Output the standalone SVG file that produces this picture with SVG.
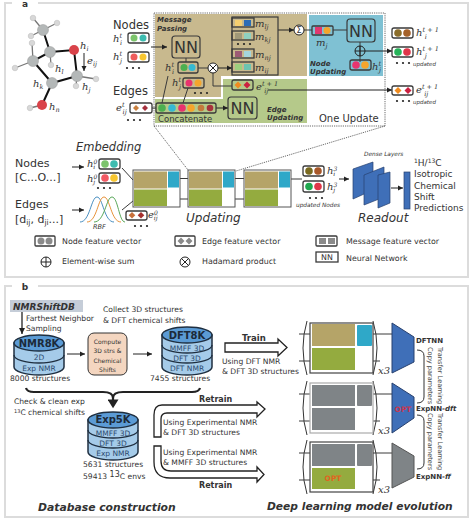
<svg xmlns="http://www.w3.org/2000/svg" xmlns:xlink="http://www.w3.org/1999/xlink" width="474" height="530" viewBox="0 0 474 530">
<style>
text{font-family:"DejaVu Sans",sans-serif;fill:#333}
.m{font-family:"DejaVu Serif",serif;font-style:italic;font-size:10px;fill:#333}
.s{font-size:6.5px}
.t8{font-size:8px}
.t7{font-size:7.600px}
.l8{font-size:7.900px}
.b7{font-size:7px;font-weight:bold}
.bi{font-weight:bold;font-style:italic}
.bi7{font-size:7px;font-weight:bold;font-style:italic}
.ti{font-style:italic;font-size:12px}
.nn{font-size:16px;text-anchor:middle}
.ctr{text-anchor:middle}
.vec{fill:none;stroke:#3a3a3a;stroke-width:1.3}
.nnb{fill:none;stroke:#3a3a3a;stroke-width:1.2}
.ln{fill:none;stroke:#3a3a3a;stroke-width:1}
.ar{fill:none;stroke:#222;stroke-width:1;marker-end:url(#a)}
.dot{fill:none;stroke:#444;stroke-width:.8;stroke-dasharray:1.2 1}
.frame{fill:none;stroke:#dcdcdc;stroke-width:2}
.hol{fill:#fff;stroke:#222;stroke-width:1.3}
.blk{fill:#fff;stroke:#555;stroke-width:1}
.tan{fill:#b5a468}.blu{fill:#2fa8c8}.grn{fill:#94ab3f}.gry{fill:#7f8487}
.rl{font-size:6.600px;fill:#444}
.lay{fill:#3f6fb8;stroke:#27406e;stroke-width:.7}
.op{fill:none;stroke:#333;stroke-width:1}
.h{fill:#d8d8d8;stroke:#bbb;stroke-width:.5}
.c{fill:#b4b8b8;stroke:#999;stroke-width:.5}
.o{fill:#d9434a}
.dbt{font-size:7.500px;fill:#2d4c70;text-anchor:middle}
.dbh{font-size:10px;font-weight:bold;fill:#1c2a3a;text-anchor:middle}
</style>
<defs>
<marker id="a" markerWidth="6" markerHeight="6" refX="5" refY="3" orient="auto"><path d="M0 .5L5 3L0 5.500Z" fill="#222"/></marker>
<marker id="a2" markerWidth="5" markerHeight="5" refX="3" refY="2.500" orient="auto"><path d="M0 0L4 2.500L0 5Z" fill="#222"/></marker>
<g id="db3"><path d="M-25 0V32A25 8 0 0 0 25 32V0Z" fill="#a5cbe9" stroke="#1f2f40" stroke-width="1.500"/><path d="M-25 10A25 8 0 0 0 25 10M-25 20A25 8 0 0 0 25 20" fill="none" stroke="#1f2f40" stroke-width="1.300"/><ellipse rx="25" ry="8" fill="#5b9bd5" stroke="#1f2f40" stroke-width="1.500"/></g>
<g id="db2"><path d="M-25 0V24A25 8 0 0 0 25 24V0Z" fill="#a5cbe9" stroke="#1f2f40" stroke-width="1.500"/><path d="M-25 12A25 8 0 0 0 25 12" fill="none" stroke="#1f2f40" stroke-width="1.300"/><ellipse rx="25" ry="8" fill="#5b9bd5" stroke="#1f2f40" stroke-width="1.500"/></g>
<g id="ub"><rect width="47" height="37" class="blk"/><rect x="1" y="1.500" width="33" height="17" class="tan"/><rect x="35" y="1.500" width="11" height="16" class="blu"/><rect x="1" y="19.500" width="33" height="16.500" class="grn"/></g>
<g id="otimes"><circle r="5" fill="#fff" stroke="#222" stroke-width="1"/><path d="M-3.500-3.500L3.500 3.500M3.500-3.500L-3.500 3.500" stroke="#222"/></g>
<g id="oplus"><circle r="5" fill="none" stroke="#222" stroke-width="1"/><path d="M-5 0H5M0-5V5" stroke="#222"/></g>
<g id="paren"><path d="M6 0Q-2 27 6 54" class="op"/></g>
<g id="d3" fill="#222"><circle r="1.100"/><circle cx="6" r="1.100"/><circle cx="12" r="1.100"/></g>
</defs>

<g id="frames">
<path class="frame" d="M12 3H5V277H468V3H38"/>
<path class="frame" d="M12 286H5V517H468V286H38"/>
<text x="25" y="7" class="ctr" font-size="9" font-weight="bold">a</text>
<text x="25" y="290" class="ctr" font-size="9" font-weight="bold">b</text>
</g>

<g id="molecule">
<path d="M43 30L50 52L33 61L52 83L77 76L74 50L50 52M52 83L42 105" fill="none" stroke="#111" stroke-width="2"/>
<path d="M43 30L33 18M43 30L57 23M43 30L31 36M33 61L32 43M33 61L15 68M50 52L51 65M77 76L96 79M77 76L76 86M42 105L30 108" fill="none" stroke="#777" stroke-width="1.300"/>
<circle class="h" cx="33" cy="18" r="2.800"/><circle class="h" cx="57" cy="23" r="2.800"/><circle class="h" cx="31" cy="36" r="2.800"/><circle class="h" cx="32" cy="43" r="2.800"/><circle class="h" cx="51" cy="65" r="2.800"/><circle class="h" cx="15" cy="68" r="2.800"/><circle class="h" cx="96" cy="79" r="2.800"/><circle class="h" cx="76" cy="86" r="2.800"/><circle class="h" cx="30" cy="108" r="2.800"/>
<circle class="c" cx="43" cy="30" r="5.500"/><circle class="c" cx="50" cy="52" r="5.500"/><circle class="c" cx="33" cy="61" r="5.500"/><circle class="c" cx="52" cy="83" r="5.500"/><circle class="c" cx="77" cy="76" r="5.500"/>
<circle class="o" cx="74" cy="50" r="5"/><circle class="o" cx="42" cy="105" r="5"/>
<text class="m" x="80" y="49">h<tspan class="s" dy="2">i</tspan></text>
<text class="m" x="87" y="64">e<tspan class="s" dy="2">ij</tspan></text>
<text class="m" x="55" y="72">h<tspan class="s" dy="2">l</tspan></text>
<text class="m" x="33" y="87">h<tspan class="s" dy="2">k</tspan></text>
<text class="m" x="82" y="90">h<tspan class="s" dy="2">j</tspan></text>
<text class="m" x="49" y="110">h<tspan class="s" dy="2">n</tspan></text>
<path class="ar" d="M84 53V71"/>
</g>

<g id="regions">
<path d="M155 14H307V76H221V97H155Z" fill="#c8b98e"/>
<path d="M223 79H307V123H155V99H223Z" fill="#b5c98a"/>
<rect x="309" y="15" width="74" height="61" fill="#7fc1d3"/>
<rect x="154" y="13" width="231" height="113" class="dot"/>
</g>

<g id="connectors">
<path class="dot" d="M154 126L188 170M385 126L236 171"/>
<path class="ar" d="M151 47H167"/>
<path class="ln" d="M186 58V62M198 68H208"/>
<path class="ar" d="M218 68H232"/>
<path class="ln" d="M213 73V86H232M168 76L162 103M188 88L183 103M152 108H156"/>
<path class="ar" d="M216 108H228"/>
<path class="ar" d="M278 30H294"/>
<path class="ln" d="M304 30H312M333 30H347M360 42V62"/>
<path class="ar" d="M365 51H392"/>
<path class="ar" d="M268 90H392"/>
<path class="ln" d="M180 178.500H188M180 199H188M235 178.500H244M235 199H244M291 179H302M122 168L133 180M122 210L133 201"/>
<path class="ar" d="M72 167H84"/><path class="ar" d="M72 210H84"/>
<path class="ar" d="M339 179H349"/><path class="ar" d="M391 188H403"/>
<path d="M22 312V334" fill="none" stroke="#222" stroke-width="1.300" marker-end="url(#a)"/>
<path class="ar" d="M67 354H85"/><path class="ar" d="M133 354H152"/>
<path d="M200 388Q199 392 192 392H123Q113 392 113 398M26 388Q27 392 34 392H103Q113 392 113 398V406" fill="none" stroke="#222" stroke-width="2.200" marker-end="url(#a2)"/>
<path class="hol" d="M225 343H278V339L287 347.500L278 356V352H225Z"/>
<path class="hol" d="M154 437V415Q154 405 162 405H257V402L265 409L257 417V413H167Q161 413 161 419V437Z"/>
<path class="hol" d="M154 446V462Q154 478 170 478H257V482L264 474.500L257 467V471H171Q161 471 161 461V446Z"/>
<path d="M417 350Q424 350 424 356V397Q424 403 417 403M417 415Q424 415 424 421V463Q424 469 417 469" fill="none" stroke="#333" stroke-width="1"/>
<path class="ln" d="M373 334H392M373 394H392M373 453H392M299 334H310M299 361H310M373 361H380M299 394H310M299 421H310M373 421H380M299 453H310M299 480H310M373 480H380"/>
</g>

<g id="input-features">
<text x="113" y="29" font-size="11.500">Nodes</text>
<text class="m" x="113" y="42" font-size="11">h<tspan class="s" dy="-4">t</tspan><tspan class="s" dx="-2" dy="7">i</tspan></text>
<rect class="vec" x="128" y="33" width="21" height="10" rx="2"/><circle cx="134" cy="38" r="3.500" fill="#7cc46c"/><circle cx="143" cy="38" r="3.500" fill="#3dbcb0"/>
<text class="m" x="113" y="60">h<tspan class="s" dy="-4">t</tspan><tspan class="s" dx="-2" dy="7">j</tspan></text>
<rect class="vec" x="128" y="52" width="21" height="10" rx="2"/><circle cx="134" cy="57" r="3.500" fill="#ef5c5c"/><circle cx="143" cy="57" r="3.500" fill="#f8c630"/>
<use xlink:href="#d3" href="#d3" x="127" y="68"/>
<text x="113" y="95" font-size="11.500">Edges</text>
<text class="m" x="116" y="111">e<tspan class="s" dy="-4">t</tspan><tspan class="s" dx="-2" dy="7">ij</tspan></text>
<rect class="vec" x="130" y="103" width="22" height="10" rx="2"/><path d="M145 105l3 3-3 3-3-3Z" fill="#a5303e"/><path d="M136 105l3 3-3 3-3-3Z" fill="#c9803f"/>
<use xlink:href="#d3" href="#d3" x="128" y="120"/>
</g>

<g id="message-passing">
<text class="bi7" x="157" y="22">Message</text><text class="bi7" x="157" y="31">Passing</text>
<rect class="nnb" x="172" y="36" width="28" height="22" rx="3"/><text class="nn" x="186" y="53">NN</text>
<text class="m" x="165" y="71">h<tspan class="s" dy="-4">t</tspan><tspan class="s" dx="-2" dy="7">i</tspan></text>
<rect class="vec" x="178" y="62" width="20" height="11" rx="2"/><circle cx="184" cy="67.500" r="3.500" fill="#4cb050"/><circle cx="192" cy="67.500" r="3.500" fill="#36b9d2"/>
<use xlink:href="#otimes" href="#otimes" x="213" y="68"/>
<text class="m" x="172" y="86">h<tspan class="s" dy="-4">t</tspan><tspan class="s" dx="-2" dy="7">j</tspan></text>
<rect class="vec" x="183" y="78" width="21" height="10" rx="2"/><circle cx="189" cy="83" r="3.500" fill="#e8336e"/><circle cx="198" cy="83" r="3.500" fill="#f5a52c"/>
<use xlink:href="#d3" href="#d3" x="195" y="93"/>
<rect x="232" y="17" width="46" height="58" class="nnb"/>
<rect class="vec" x="232" y="18" width="22" height="9"/><rect x="235" y="20" width="7" height="6" fill="#f5cf70"/><rect x="244" y="20" width="7" height="6" fill="#2d6db5"/>
<rect class="vec" x="232" y="31" width="22" height="9"/><rect x="235" y="33" width="7" height="6" fill="#a09878"/><rect x="244" y="33" width="7" height="6" fill="#8fd0c0"/>
<rect class="vec" x="232" y="49" width="22" height="9"/><rect x="235" y="51" width="7" height="6" fill="#9c5b75"/><rect x="244" y="51" width="7" height="6" fill="#a5d5dd"/>
<rect class="vec" x="232" y="62" width="22" height="10"/><rect x="235" y="64" width="7" height="6" fill="#9ccf7e"/><rect x="244" y="64" width="7" height="6" fill="#6cc4b0"/>
<text class="m" x="255" y="27">m<tspan class="s" dy="2">lj</tspan></text>
<text class="m" x="255" y="40">m<tspan class="s" dy="2">kj</tspan></text>
<use xlink:href="#d3" href="#d3" x="238" y="44"/>
<text class="m" x="255" y="58">m<tspan class="s" dy="2">nj</tspan></text>
<text class="m" x="255" y="71">m<tspan class="s" dy="2">ij</tspan></text>
<circle cx="299" cy="30" r="5" fill="#fff" stroke="#222"/><text x="299" y="33" class="ctr t8">Σ</text>
</g>

<g id="node-updating">
<rect class="vec" x="312" y="26" width="21" height="9" rx="1"/><rect x="315" y="27" width="7" height="7" fill="#e0386f"/><circle cx="327" cy="30.500" r="3.500" fill="#f5a52c"/>
<text class="m" x="316" y="46">m<tspan class="s" dy="2">j</tspan></text>
<rect class="nnb" x="347" y="19" width="28" height="23" rx="3"/><text class="nn" x="361" y="37">NN</text>
<use xlink:href="#oplus" href="#oplus" x="360" y="51"/>
<rect class="vec" x="350" y="60" width="21" height="10" rx="2"/><circle cx="356" cy="65" r="3.800" fill="#e8336e"/><circle cx="365" cy="65" r="3.800" fill="#f5a52c"/>
<text class="m" x="372" y="70">h<tspan class="s" dy="-4">t</tspan><tspan class="s" dx="-2" dy="6">j</tspan></text>
<text class="bi7" x="310" y="66">Node</text><text class="bi7" x="310" y="74">Updating</text>
</g>

<g id="edge-updating">
<rect class="vec" x="232" y="80" width="21" height="10" rx="2"/><path d="M247 81.500l3.500 3.500-3.500 3.500-3.500-3.500Z" fill="#cc2040"/><path d="M238 81.500l3.500 3.500-3.500 3.500-3.500-3.500Z" fill="#f08b1f"/>
<text class="m" x="256" y="90">e<tspan class="s" dy="-4" font-size="7">t + 1</tspan><tspan class="s" dx="-14" dy="7">ij</tspan></text>
<rect class="vec" x="156" y="103" width="60" height="10" rx="2"/>
<circle cx="162" cy="108" r="3.800" fill="#4cb050"/><circle cx="172" cy="108" r="3.800" fill="#36b9d2"/><circle cx="182" cy="108" r="3.800" fill="#e8336e"/><circle cx="191" cy="108" r="3.800" fill="#f5a52c"/><circle cx="201" cy="108" r="3.300" fill="#c47a3c"/><circle cx="210" cy="108" r="3.300" fill="#a8333c"/>
<text x="158" y="122" font-size="8.500">Concatenate</text>
<rect class="nnb" x="228" y="97" width="29" height="22" rx="3"/><text class="nn" x="242.500" y="114">NN</text>
<text class="bi7" x="267" y="112">Edge</text><text class="bi7" x="267" y="120">Updating</text>
<text x="319" y="122" font-size="10">One Update</text>
</g>

<g id="outputs">
<rect class="vec" x="392" y="28" width="21" height="10" rx="2"/><circle cx="398" cy="33" r="3.800" fill="#8a6d2a"/><circle cx="407" cy="33" r="3.800" fill="#a5622a"/>
<text class="m" x="416" y="36">h<tspan class="s" dy="-4" font-size="7">t + 1</tspan><tspan class="s" dx="-14" dy="7">i</tspan></text>
<rect class="vec" x="392" y="47" width="21" height="10" rx="2"/><circle cx="398" cy="52" r="3.800" fill="#27b35a"/><circle cx="407" cy="52" r="3.800" fill="#e0364a"/>
<text class="m" x="416" y="55">h<tspan class="s" dy="-4" font-size="7">t + 1</tspan><tspan class="s" dx="-14" dy="7">j</tspan></text>
<use xlink:href="#d3" href="#d3" x="397" y="63"/><text x="413" y="66" font-size="5.500" font-style="italic">updated</text>
<rect class="vec" x="392" y="86" width="21" height="9" rx="2"/><path d="M408 87l3.500 3.500-3.500 3.500-3.500-3.500Z" fill="#cc2040"/><path d="M398 87l3.500 3.500-3.500 3.500-3.500-3.500Z" fill="#f08b1f"/>
<text class="m" x="416" y="93">e<tspan class="s" dy="-4" font-size="7">t + 1</tspan><tspan class="s" dx="-14" dy="7">ij</tspan></text>
<use xlink:href="#d3" href="#d3" x="397" y="101"/><text x="413" y="104" font-size="5.500" font-style="italic">updated</text>
</g>

<g id="embedding">
<text x="76" y="151" font-size="11.500" font-style="italic">Embedding</text>
<text x="15" y="167" font-size="11">Nodes</text><text x="15" y="181" font-size="11">[C...O...]</text>
<text x="15" y="208" font-size="11">Edges</text><text x="15" y="223" font-size="11">[d<tspan font-size="7.500" dy="2">ij</tspan><tspan dy="-2">, d</tspan><tspan font-size="7.500" dy="2">ji</tspan><tspan dy="-2">...]</tspan></text>
<text class="m" x="87" y="167" font-size="9">h<tspan font-size="6" dy="-3">0</tspan><tspan font-size="6" dx="-4" dy="5">i</tspan></text>
<rect class="vec" x="99" y="159" width="21" height="10" rx="2"/><circle cx="105" cy="164" r="3.800" fill="#7cc46c"/><circle cx="114" cy="164" r="3.800" fill="#3dbcb0"/>
<text class="m" x="87" y="182" font-size="9">h<tspan font-size="6" dy="-3">0</tspan><tspan font-size="6" dx="-4" dy="5">j</tspan></text>
<rect class="vec" x="99" y="173" width="21" height="10" rx="2"/><circle cx="105" cy="178" r="3.800" fill="#f25a64"/><circle cx="114" cy="178" r="3.800" fill="#f8c630"/>
<use xlink:href="#d3" href="#d3" x="98" y="188"/>
<path d="M80 222C90 222 91 197 97 197C103 197 104 222 114 222" fill="none" stroke="#4a8fc0"/>
<path d="M87 222C97 222 98 197 104 197C110 197 111 222 121 222" fill="none" stroke="#e8933a"/>
<path d="M94 222C105 222 106 197 112 197C118 197 119 222 125 222" fill="none" stroke="#5aa85a"/>
<text x="93" y="229" font-size="6.500" font-style="italic">RBF</text>
<rect class="vec" x="126" y="211" width="21" height="9" rx="2"/><path d="M141 212l3.300 3.300-3.300 3.300-3.300-3.300Z" fill="#a5302e"/><path d="M132 212l3.300 3.300-3.300 3.300-3.300-3.300Z" fill="#c9703a"/>
<text class="m" x="148" y="218" font-size="9">e<tspan font-size="6" dy="-3">0</tspan><tspan font-size="6" dx="-4" dy="5">ij</tspan></text>
<use xlink:href="#d3" href="#d3" x="135" y="226"/>
</g>

<g id="updating">
<use xlink:href="#ub" href="#ub" x="133" y="170"/><use xlink:href="#ub" href="#ub" x="188" y="170"/><use xlink:href="#ub" href="#ub" x="244" y="170"/>
<text class="ti" x="186" y="222">Updating</text>
</g>

<g id="updated-nodes">
<rect class="vec" x="303" y="166" width="21" height="10" rx="2"/><circle cx="309" cy="171" r="3.800" fill="#7a6a20"/><circle cx="318" cy="171" r="3.800" fill="#a8582a"/>
<text class="m" x="327" y="174" font-size="9">h<tspan font-size="6" dy="-3">3</tspan><tspan font-size="6" dx="-4" dy="5">i</tspan></text>
<rect class="vec" x="303" y="181" width="21" height="11" rx="2"/><circle cx="309" cy="186.500" r="3.800" fill="#20a850"/><circle cx="318" cy="186.500" r="3.800" fill="#e0384a"/>
<text class="m" x="327" y="190" font-size="9">h<tspan font-size="6" dy="-3">3</tspan><tspan font-size="6" dx="-4" dy="5">j</tspan></text>
<use xlink:href="#d3" href="#d3" x="310" y="198"/>
<text x="296" y="207" font-size="5.800" font-style="italic">updated Nodes</text>
</g>

<g id="readout">
<text x="364" y="156" font-size="5.800" font-style="italic">Dense Layers</text>
<path class="lay" d="M353 169L373 162V190L353 199Z"/>
<path class="lay" d="M364 175L384 167V197L364 205Z"/>
<path class="lay" d="M378 175L390 172V203L378 208Z"/>
<rect class="lay" x="404" y="172" width="6" height="37"/>
<text class="ti" x="358" y="222">Readout</text>
<text x="414" y="166" font-size="9"><tspan font-size="6" dy="-3">1</tspan><tspan dy="3">H/</tspan><tspan font-size="6" dy="-3">13</tspan><tspan dy="3">C</tspan></text>
<text x="414" y="177" font-size="9">Isotropic</text><text x="414" y="189" font-size="9">Chemical</text><text x="414" y="200" font-size="9">Shift</text><text x="414" y="211" font-size="9">Predictions</text>
</g>

<g id="legend">
<rect class="vec" x="35" y="236" width="20" height="10" rx="1"/><circle cx="41" cy="241" r="3.500" fill="#8a8a8a"/><circle cx="49" cy="241" r="3.500" fill="#8a8a8a"/>
<text class="l8" x="62" y="244">Node feature vector</text>
<rect class="vec" x="175" y="236" width="20" height="10" rx="1"/><path d="M181 237.500l3.500 3.500-3.500 3.500-3.500-3.500ZM189 237.500l3.500 3.500-3.500 3.500-3.500-3.500Z" fill="#8a8a8a"/>
<text class="l8" x="202" y="244">Edge feature vector</text>
<rect class="vec" x="316" y="236" width="21" height="10" rx="1"/><rect x="319" y="238" width="7" height="6" fill="#8a8a8a"/><rect x="328" y="238" width="7" height="6" fill="#8a8a8a"/>
<text class="l8" x="346" y="244">Message feature vector</text>
<use xlink:href="#oplus" href="#oplus" x="46" y="262"/><text class="l8" x="62" y="264">Element-wise sum</text>
<use xlink:href="#otimes" href="#otimes" x="185" y="262"/><text class="l8" x="202" y="264">Hadamard product</text>
<rect class="vec" x="316" y="252" width="22" height="10"/><text class="l8 ctr" x="327" y="260">NN</text><text class="l8" x="346" y="261">Neural Network</text>
</g>

<g id="nmrshiftdb">
<rect x="10" y="300" width="73" height="12" fill="#c5cdd8"/>
<text class="bi" x="13" y="309.500" font-size="9">NMRShiftDB</text>
<text class="t7" x="26" y="321">Farthest Neighbor</text><text class="t7" x="26" y="331">Sampling</text>
<text class="t7" x="103" y="312">Collect 3D structures</text><text class="t7" x="103" y="323">&amp; DFT chemical shifts</text>
</g>

<g id="nmr8k">
<use xlink:href="#db2" href="#db2" x="39" y="343"/>
<text class="dbh" x="39" y="347">NMR8K</text><text class="dbt" x="39" y="360">2D</text><text class="dbt" x="39" y="371">Exp NMR</text>
<text class="t7" x="10" y="381">8000 structures</text>
</g>

<g id="compute">
<rect x="88" y="333" width="39" height="42" rx="6" fill="#f4d6c0" stroke="#333"/>
<text class="ctr" font-size="6" x="107.500" y="344">Compute</text><text class="ctr" font-size="6" x="107.500" y="353">3D strs &amp;</text><text class="ctr" font-size="6" x="107.500" y="363">Chemical</text><text class="ctr" font-size="6" x="107.500" y="372">Shifts</text>
</g>

<g id="dft8k">
<use xlink:href="#db3" href="#db3" x="187" y="335"/>
<text class="dbh" x="187" y="339">DFT8K</text><text class="dbt" x="187" y="351">MMFF 3D</text><text class="dbt" x="187" y="361">DFT 3D</text><text class="dbt" x="187" y="371">DFT NMR</text>
<text class="t7" x="150" y="381">7455 structures</text>
</g>

<g id="exp5k">
<text class="t7" x="14" y="404">Check &amp; clean exp</text>
<text class="t7" x="14" y="415"><tspan font-size="5" dy="-2">13</tspan><tspan dy="2">C chemical shifts</tspan></text>
<use xlink:href="#db3" href="#db3" x="113" y="420"/>
<text class="dbh" x="113" y="423">Exp5K</text><text class="dbt" x="113" y="436">MMFF 3D</text><text class="dbt" x="113" y="446">DFT 3D</text><text class="dbt" x="113" y="456">Exp NMR</text>
<text class="t7" x="83" y="467">5631 structures</text>
<text class="t7" x="83" y="479">59413 <tspan font-size="8" dy="-2">13</tspan><tspan dy="2">C envs</tspan></text>
</g>

<g id="training-labels">
<text x="242" y="341" font-size="8.500" font-weight="bold">Train</text>
<text class="t7" x="222" y="364">Using DFT NMR</text><text class="t7" x="222" y="374">&amp; DFT 3D structures</text>
<text x="199" y="402" font-size="8" font-weight="bold">Retrain</text>
<text class="t7" x="163" y="425">Using Experimental NMR</text><text class="t7" x="163" y="435">&amp; DFT 3D structures</text>
<text class="t7" x="163" y="455">Using Experimental NMR</text><text class="t7" x="163" y="465">&amp; MMFF 3D structures</text>
<text x="199" y="488" font-size="8" font-weight="bold">Retrain</text>
<text class="bi" x="38" y="511" font-size="10.800">Database construction</text>
<text class="bi" x="267" y="510" font-size="10.700">Deep learning model evolution</text>
</g>

<g id="dftnn">
<use xlink:href="#paren" href="#paren" x="301" y="321"/><path transform="translate(379 321) scale(-1 1)" d="M6 0Q-2 27 6 54" class="op"/>
<rect x="310" y="323" width="63" height="50" fill="#fff" stroke="#444" stroke-width="1.200"/>
<rect class="tan" x="312" y="324" width="43" height="22"/><rect class="blu" x="357" y="325" width="15" height="21" rx="1"/><rect class="grn" x="312" y="348" width="43" height="22"/>
<text class="m" x="378" y="374">x3</text>
<path d="M392 323L414 337V362L392 373Z" fill="#3f6fb8" stroke="#27406e"/>
<text x="416" y="343" class="b7">DFTNN</text>
</g>

<g id="expnn-dft">
<use xlink:href="#paren" href="#paren" x="301" y="381"/><path transform="translate(379 381) scale(-1 1)" d="M6 0Q-2 27 6 54" class="op"/>
<rect x="310" y="383" width="63" height="50" fill="#fff" stroke="#aaa" stroke-width="1.200"/>
<rect class="gry" x="312" y="385" width="43" height="21"/><rect class="gry" x="357" y="385" width="15" height="21" rx="1"/><rect class="gry" x="312" y="408" width="43" height="22"/>
<text class="m" x="378" y="434">x3</text>
<path d="M392 383L414 397V418L392 433Z" fill="#3f6fb8" stroke="#27406e"/>
<text class="ctr" x="403" y="412" font-size="7.500" font-weight="bold" style="fill:#c8364f">OPT</text>
<text x="416" y="411" class="b7">ExpNN-<tspan font-style="italic">dft</tspan></text>
</g>

<g id="expnn-ff">
<use xlink:href="#paren" href="#paren" x="301" y="440"/><path transform="translate(379 440) scale(-1 1)" d="M6 0Q-2 27 6 54" class="op"/>
<rect x="310" y="442" width="63" height="50" fill="#fff" stroke="#444" stroke-width="1.200"/>
<rect class="gry" x="312" y="444" width="43" height="22"/><rect class="gry" x="357" y="444" width="15" height="22" rx="1"/><rect class="grn" x="312" y="468" width="43" height="21"/>
<text class="ctr" x="333" y="481" font-size="7.500" font-weight="bold" style="fill:#e0651f">OPT</text>
<text class="m" x="378" y="493">x3</text>
<path d="M392 443L414 456V477L392 488Z" fill="#7f8487" stroke="#555"/>
<text x="416" y="479" class="b7">ExpNN-<tspan font-style="italic">ff</tspan></text>
</g>

<g id="transfer-labels">
<text class="rl" transform="translate(428 347) rotate(90)">Copy parameters</text>
<text class="rl" transform="translate(438 347) rotate(90)">Transfer Learning</text>
<text class="rl" transform="translate(428 413) rotate(90)">Copy parameters</text>
<text class="rl" transform="translate(438 413) rotate(90)">Transfer Learning</text>
</g>
</svg>
